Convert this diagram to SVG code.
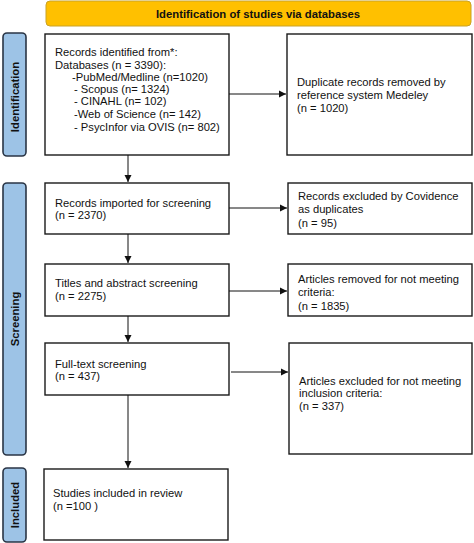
<svg xmlns="http://www.w3.org/2000/svg" width="474" height="543" viewBox="0 0 474 543">
<defs>
<style>
.box{fill:#fff;stroke:#1a1a1a;stroke-width:1.4}
.side{fill:#9dc3e6;stroke:#2a3545;stroke-width:1.6}
.t{font-family:"Liberation Sans",Arial,sans-serif;font-size:11.2px;fill:#111}
.st{font-family:"Liberation Sans",Arial,sans-serif;font-size:11.3px;font-weight:bold;fill:#111}
.ln{stroke:#111;stroke-width:1;fill:none;marker-end:url(#ah)}
</style>
<marker id="ah" markerWidth="8" markerHeight="8" refX="7" refY="4" orient="auto" markerUnits="userSpaceOnUse">
<path d="M0,0.5 L7,4 L0,7.5 Z" fill="#111"/>
</marker>
</defs>
<rect width="474" height="543" fill="#fff"/>

<g id="banner">
<rect x="46" y="1" width="425" height="25" rx="4" fill="#ffc000" stroke="#c9a227" stroke-width="1"/>
<text class="st" x="258" y="17.5" text-anchor="middle">Identification of studies via databases</text>
</g>

<g id="side-identification">
<rect class="side" x="3" y="33" width="23" height="123" rx="4"/>
<text class="st" transform="translate(18.8,97) rotate(-90)" text-anchor="middle">Identification</text>
</g>
<g id="side-screening">
<rect class="side" x="3" y="183" width="23" height="272" rx="4"/>
<text class="st" transform="translate(18.8,319) rotate(-90)" text-anchor="middle">Screening</text>
</g>
<g id="side-included">
<rect class="side" x="3" y="468" width="23" height="74" rx="4"/>
<text class="st" transform="translate(18.8,505) rotate(-90)" text-anchor="middle">Included</text>
</g>

<g id="records-identified">
<rect class="box" x="45" y="34" width="184" height="121"/>
<text class="t" x="55" y="56">Records identified from*:</text>
<text class="t" x="55" y="68.5">Databases (n = 3390):</text>
<text class="t" x="72" y="80.5">-PubMed/Medline (n=1020)</text>
<text class="t" x="74" y="92.5">- Scopus (n= 1324)</text>
<text class="t" x="74" y="104.5">- CINAHL (n= 102)</text>
<text class="t" x="74" y="118">-Web of Science (n= 142)</text>
<text class="t" x="74" y="131">- PsycInfor via OVIS (n= 802)</text>
</g>
<g id="duplicates-removed">
<rect class="box" x="287" y="34" width="185" height="121"/>
<text class="t" x="297" y="86">Duplicate records removed by</text>
<text class="t" x="297" y="99">reference system Medeley</text>
<text class="t" x="297" y="112">(n = 1020)</text>
</g>

<g id="records-imported">
<rect class="box" x="45" y="183" width="184" height="51"/>
<text class="t" x="55" y="207">Records imported for screening</text>
<text class="t" x="55" y="219">(n = 2370)</text>
</g>
<g id="covidence-excluded">
<rect class="box" x="288" y="183" width="184" height="51"/>
<text class="t" x="298" y="200">Records excluded by Covidence</text>
<text class="t" x="298" y="213">as duplicates</text>
<text class="t" x="298" y="227">(n = 95)</text>
</g>

<g id="titles-abstract">
<rect class="box" x="45" y="264" width="184" height="52"/>
<text class="t" x="55" y="287">Titles and abstract screening</text>
<text class="t" x="55" y="300">(n = 2275)</text>
</g>
<g id="articles-removed">
<rect class="box" x="288" y="264" width="184" height="52"/>
<text class="t" x="298" y="283">Articles removed for not meeting</text>
<text class="t" x="298" y="296">criteria:</text>
<text class="t" x="298" y="310">(n = 1835)</text>
</g>

<g id="full-text">
<rect class="box" x="45" y="343" width="184" height="52"/>
<text class="t" x="55" y="368">Full-text screening</text>
<text class="t" x="55" y="380">(n = 437)</text>
</g>
<g id="articles-excluded">
<rect class="box" x="289" y="343" width="183" height="111"/>
<text class="t" x="299" y="385">Articles excluded for not meeting</text>
<text class="t" x="299" y="397">inclusion criteria:</text>
<text class="t" x="299" y="410">(n = 337)</text>
</g>

<g id="studies-included">
<rect class="box" x="44" y="469" width="184" height="71"/>
<text class="t" x="53" y="497">Studies included in review</text>
<text class="t" x="53" y="510">(n =100 )</text>
</g>

<g id="connectors">
<line class="ln" x1="229" y1="94" x2="286" y2="94"/>
<line class="ln" x1="128" y1="155" x2="128" y2="182"/>
<line class="ln" x1="229" y1="208" x2="287" y2="208"/>
<line class="ln" x1="128" y1="234" x2="128" y2="263"/>
<line class="ln" x1="229" y1="291" x2="287" y2="291"/>
<line class="ln" x1="128" y1="316" x2="128" y2="342"/>
<line class="ln" x1="231" y1="372" x2="288" y2="372"/>
<line class="ln" x1="128" y1="395" x2="128" y2="468"/>
</g>
</svg>
